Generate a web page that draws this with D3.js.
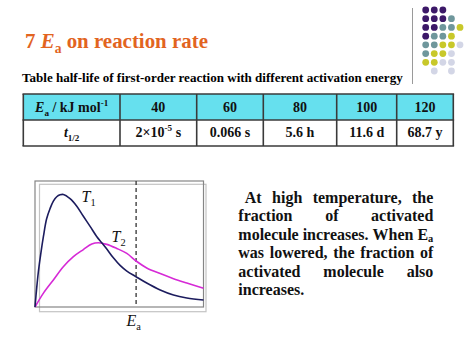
<!DOCTYPE html>
<html><head><meta charset="utf-8">
<script src="https://cdn.jsdelivr.net/npm/d3@7"></script>
<style>html,body{margin:0;padding:0;background:#fff;overflow:hidden}text{white-space:pre}</style>
</head><body>
<script>
// ---------------- data ----------------
const titleText = "7 *E*_{a} on reaction rate";
const subtitleText = "Table half-life of first-order reaction with different activation energy";
const tableRowLabels = ["*E*_{a} / kJ mol^{-1}", "*t*_{1/2}"];
const activationEnergies = ["40", "60", "80", "100", "120"];
const halfLives = ["2×10^{-5} s", "0.066 s", "5.6 h", "11.6 d", "68.7 y"];

const t1Energy   = [0, 0.1, 0.2, 0.34, 0.5, 0.69, 0.89, 1.09, 1.29, 1.49, 1.68, 2.08, 2.48, 2.87, 3.27, 3.66, 3.96, 4.26, 4.65, 5.05, 5.45, 6.0, 6.63, 7.43, 8.22, 9.01, 10];
const t1Fraction = [0, 0.15, 0.28, 0.42, 0.56, 0.70, 0.78, 0.84, 0.875, 0.89, 0.893, 0.86, 0.80, 0.72, 0.64, 0.56, 0.51, 0.46, 0.39, 0.33, 0.285, 0.24, 0.19, 0.135, 0.095, 0.072, 0.056];
const t2Energy   = [0, 0.5, 1.09, 1.68, 2.28, 2.87, 3.37, 3.76, 4.26, 4.85, 5.45, 6.0, 6.63, 7.43, 8.22, 9.01, 10];
const t2Fraction = [0, 0.11, 0.215, 0.32, 0.40, 0.456, 0.50, 0.51, 0.497, 0.465, 0.425, 0.365, 0.31, 0.265, 0.225, 0.19, 0.148];
const eaPosition = 6.0;
const curveLabels = ["*T*_{1}", "*T*_{2}", "*E*_{a}"];

const paragraphLines = [
  "At high temperature, the",
  "fraction of activated",
  "molecule increases. When E_{a}",
  "was lowered, the fraction of",
  "activated molecule also",
  "increases."
];

const dotPattern = ["PPP..", "PPPT.", "PPTTY", "PTTY.", "TTYYL", "TYYL.", "YYLL.", ".L.L."];
const dotColors = {P: "#3c1868", T: "#6f979c", Y: "#c8c82a", L: "#d3d6e6"};

// ---------------- helpers ----------------
const FONT = "'Liberation Serif','Times New Roman',Times,serif";
function rich(textSel, str, subShift) {
  const fs = parseFloat(textSel.attr("font-size"));
  const sb = subShift == null ? 0.28 : subShift;
  const parts = str.split(/(\*[^*]+\*|_\{[^}]+\}|\^\{[^}]+\})/).filter(s => s.length);
  let shift = 0;
  parts.forEach(p => {
    let content = p, style = null, target = 0, size = null;
    if (p.startsWith("*")) { content = p.slice(1, -1); style = "italic"; }
    else if (p.startsWith("_{")) { content = p.slice(2, -1); target = sb; size = 0.65; }
    else if (p.startsWith("^{")) { content = p.slice(2, -1); target = -0.4; size = 0.65; }
    const ts = textSel.append("tspan").text(content);
    if (style) ts.attr("font-style", style);
    const dy = (target - shift) * fs;
    if (dy !== 0) ts.attr("dy", dy.toFixed(2));
    if (size) ts.attr("font-size", (fs * size).toFixed(2));
    shift = target;
  });
  return textSel;
}

const W = 474, H = 355;
const svg = d3.select("body").append("svg").attr("width", W).attr("height", H)
  .style("font-family", FONT);

// ---------------- title ----------------
const title = svg.append("text").attr("x", 25).attr("y", 47.5)
  .attr("font-size", 22).attr("font-weight", "bold").attr("fill", "#e2641f");
rich(title, titleText);
{
  const w = title.node().getComputedTextLength();
  const fs = 22 * 183 / w;
  title.selectAll("tspan").remove();
  title.attr("font-size", fs.toFixed(2));
  rich(title, titleText);
}

const sub = svg.append("text").attr("x", 22).attr("y", 81.5)
  .attr("font-size", 13).attr("font-weight", "bold").attr("fill", "#000").text(subtitleText);
{
  const w = sub.node().getComputedTextLength();
  sub.attr("font-size", (13 * 381 / w).toFixed(2));
}

// ---------------- decoration ----------------
svg.append("line").attr("x1", 412.5).attr("x2", 412.5).attr("y1", 8).attr("y2", 84)
  .attr("stroke", "#9a9a9a").attr("stroke-width", 1);
const dotX = d3.scaleLinear().domain([0, 4]).range([425.7, 460]);
const dotY = d3.scaleLinear().domain([0, 7]).range([10, 71]);
const dots = [];
dotPattern.forEach((row, r) => row.split("").forEach((c, k) => { if (c !== ".") dots.push({r, k, c}); }));
svg.append("g").selectAll("circle").data(dots).join("circle")
  .attr("cx", d => dotX(d.k)).attr("cy", d => dotY(d.r)).attr("r", 3.4)
  .attr("fill", d => dotColors[d.c]);

// ---------------- table ----------------
const colEdges = [23.3, 120, 196.7, 263.3, 336.7, 396.7, 453.3];
const rowEdges = [94, 120, 146];
const tbl = svg.append("g");
const rows = [
  {label: tableRowLabels[0], cells: activationEnergies, fill: "#66e0ee", base: 111.7},
  {label: tableRowLabels[1], cells: halfLives, fill: "#ffffff", base: 136.7}
];
rows.forEach((row, ri) => {
  const vals = [row.label].concat(row.cells);
  vals.forEach((v, ci) => {
    tbl.append("rect").attr("x", colEdges[ci]).attr("y", rowEdges[ri])
      .attr("width", colEdges[ci + 1] - colEdges[ci]).attr("height", rowEdges[ri + 1] - rowEdges[ri])
      .attr("fill", row.fill);
  });
});
rows.forEach((row, ri) => {
  const vals = [row.label].concat(row.cells);
  vals.forEach((v, ci) => {
    const t = tbl.append("text").attr("x", (colEdges[ci] + colEdges[ci + 1]) / 2).attr("y", row.base)
      .attr("text-anchor", "middle").attr("font-size", 14).attr("font-weight", "bold").attr("fill", "#111");
    rich(t, v);
  });
});
colEdges.forEach(x => tbl.append("line").attr("x1", x).attr("x2", x).attr("y1", rowEdges[0]).attr("y2", rowEdges[2])
  .attr("stroke", "#3a3a3a").attr("stroke-width", 1.6));
rowEdges.forEach(y => tbl.append("line").attr("x1", colEdges[0] - 0.8).attr("x2", colEdges[6] + 0.8).attr("y1", y).attr("y2", y)
  .attr("stroke", "#3a3a3a").attr("stroke-width", 1.6));

// ---------------- plot ----------------
const x = d3.scaleLinear().domain([0, 10]).range([35, 203.5]);
const y = d3.scaleLinear().domain([0, 1]).range([307, 181]);
const plot = svg.append("g");
plot.append("rect").attr("x", 39.5).attr("y", 184.3).attr("width", 206 - 39.5).attr("height", 311.7 - 184.3)
  .attr("fill", "none").attr("stroke", "#c4c4c4").attr("stroke-width", 1.2);
plot.append("rect").attr("x", x(0)).attr("y", y(1)).attr("width", x(10) - x(0)).attr("height", y(0) - y(1))
  .attr("fill", "none").attr("stroke", "#858585").attr("stroke-width", 1.2);

plot.append("line").attr("x1", x(eaPosition)).attr("x2", x(eaPosition)).attr("y1", y(1)).attr("y2", y(0))
  .attr("stroke", "#333").attr("stroke-width", 1.3).attr("stroke-dasharray", "4,3");

const line = d3.line().x(d => x(d[0])).y(d => y(d[1])).curve(d3.curveCatmullRom.alpha(0.5));
plot.append("path").attr("d", line(d3.zip(t2Energy, t2Fraction)))
  .attr("fill", "none").attr("stroke", "#d62ad6").attr("stroke-width", 1.6);
plot.append("path").attr("d", line(d3.zip(t1Energy, t1Fraction)))
  .attr("fill", "none").attr("stroke", "#1c1c5e").attr("stroke-width", 1.6);

const labelPos = [[81.5, 202], [111.5, 242], [126.5, 325.5]];
curveLabels.forEach((s, i) => {
  const t = plot.append("text").attr("x", labelPos[i][0]).attr("y", labelPos[i][1])
    .attr("font-size", 16).attr("fill", "#111");
  rich(t, s);
});

// ---------------- paragraph ----------------
const paraLeft = 238.3, paraRight = 433.3, paraTop = 202.7, lineGap = 18.45, paraFs = 16;
const para = svg.append("g").attr("font-size", paraFs).attr("font-weight", "bold").attr("fill", "#111");
paragraphLines.forEach((ln, li) => {
  const words = ln.split(" ");
  const yy = paraTop + li * lineGap;
  const left = li === 0 ? paraLeft + 6.5 : paraLeft;
  const nodes = words.map(w => {
    const t = para.append("text").attr("y", yy).attr("font-size", paraFs);
    rich(t, w, 0.15);
    return t;
  });
  const widths = nodes.map(n => n.node().getComputedTextLength());
  const total = d3.sum(widths);
  const last = li === paragraphLines.length - 1;
  const gap = (last || words.length < 2) ? paraFs * 0.25 : (paraRight - left - total) / (words.length - 1);
  let cx = left;
  nodes.forEach((n, k) => { n.attr("x", cx); cx += widths[k] + gap; });
});
</script>
</body></html>
